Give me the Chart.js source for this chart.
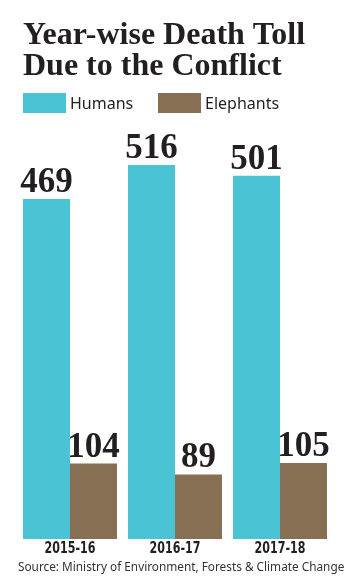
<!DOCTYPE html>
<html>
<head>
<meta charset="utf-8">
<script src="https://cdn.jsdelivr.net/npm/chart.js@4"></script>
<style>
  html, body { margin: 0; padding: 0; background: #fff; }
  #wrap { width: 357px; height: 582px; position: relative; }
</style>
</head>
<body>
<div id="wrap"><canvas id="chart"></canvas></div>
<script>
const years = ['2015-16', '2016-17', '2017-18']
const humans = [469, 516, 501]
const elephants = [104, 89, 105]
const seriesNames = ['Humans', 'Elephants']
const titleLines = ['Year-wise Death Toll', 'Due to the Conflict']
const source = 'Source: Ministry of Environment, Forests & Climate Change'

const cyan = '#4ac3d4'
const brown = '#866f52'
const ink = '#231f20'

// title, legend and source line drawn straight on the canvas
const frame = {
  id: 'frame',
  afterDraw(chart) {
    const ctx = chart.ctx
    ctx.save()
    ctx.fillStyle = ink
    ctx.textAlign = 'left'
    ctx.textBaseline = 'alphabetic'
    ctx.font = 'bold 32px "Liberation Serif", serif'
    ctx.fillText(titleLines[0], 23, 44)
    ctx.fillText(titleLines[1], 23, 75)

    const colors = [cyan, brown]
    const xs = [23, 158]
    ctx.font = '16px "Noto Sans", sans-serif'
    seriesNames.forEach((name, i) => {
      ctx.fillStyle = colors[i]
      ctx.fillRect(xs[i], 93, 43, 20)
      ctx.fillStyle = ink
      ctx.fillText(name, xs[i] + 47, 109)
    })

    ctx.fillStyle = '#333'
    ctx.font = '11.8px "Noto Sans", sans-serif'
    ctx.fillText(source, 18, 571)

    // category labels, condensed, placed by the x scale
    const x = chart.scales.x
    ctx.fillStyle = ink
    ctx.textAlign = 'center'
    ctx.font = 'bold 15px "DejaVu Sans", sans-serif'
    if ('fontStretch' in ctx) ctx.fontStretch = 'condensed'
    years.forEach((y, i) => {
      ctx.save()
      const px = x.getPixelForValue(i)
      ctx.translate(px, 553)
      ctx.scale(0.82, 1)
      ctx.fillText(y, 0, 0)
      ctx.restore()
    })
    ctx.restore()
  }
}

// value labels above each bar
const valueLabels = {
  id: 'valueLabels',
  afterDatasetsDraw(chart) {
    const ctx = chart.ctx
    ctx.save()
    ctx.fillStyle = ink
    ctx.textAlign = 'center'
    ctx.textBaseline = 'alphabetic'
    chart.data.datasets.forEach((ds, i) => {
      const meta = chart.getDatasetMeta(i)
      ctx.font = 'bold 35px "Liberation Serif", serif'
      meta.data.forEach((bar, j) => {
        ctx.fillText(ds.data[j], bar.x, bar.y - 7)
      })
    })
    ctx.restore()
  }
}

new Chart(document.getElementById('chart'), {
  type: 'bar',
  data: {
    labels: years,
    datasets: [
      { label: seriesNames[0], data: humans, backgroundColor: cyan },
      { label: seriesNames[1], data: elephants, backgroundColor: brown }
    ]
  },
  options: {
    responsive: true,
    maintainAspectRatio: false,
    animation: false,
    layout: { padding: { left: 17.5, right: 24.5, top: 118.5, bottom: 43 } },
    datasets: { bar: { categoryPercentage: 0.895, barPercentage: 1 } },
    plugins: {
      legend: { display: false },
      title: { display: false },
      tooltip: { enabled: false }
    },
    scales: {
      x: {
        grid: { display: false, drawTicks: false },
        border: { display: false },
        ticks: { display: false }
      },
      y: { display: false, min: 0, max: 580 }
    }
  },
  plugins: [valueLabels, frame]
})
</script>
</body>
</html>
